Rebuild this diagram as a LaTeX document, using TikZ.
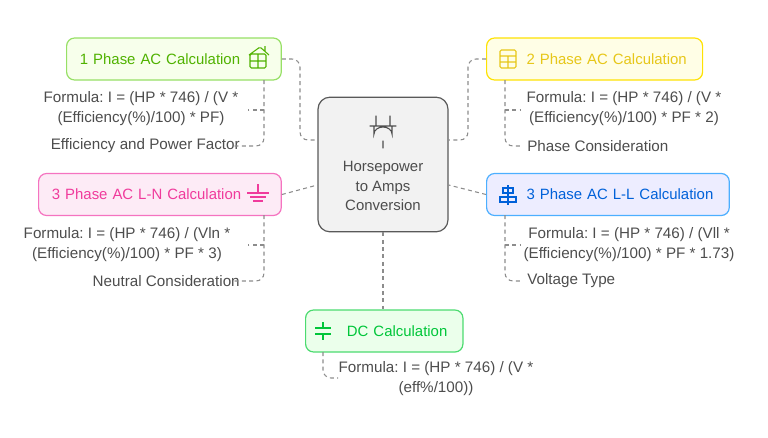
\documentclass[tikz,border=0pt]{standalone}
\usepackage{fontspec}
\setmainfont{Liberation Sans}
\frenchspacing
\usetikzlibrary{positioning}
\definecolor{lineGray}{HTML}{8C8C8C}
\definecolor{noteGray}{HTML}{4D4D4D}
\tikzset{
  box/.style={draw,rounded corners=6pt,line width=0.9pt,minimum height=31.5pt,font=\fontsize{11.2}{12}\selectfont,inner xsep=8pt,anchor=west},
  note/.style={text=noteGray,font=\fontsize{11.4}{15}\selectfont,inner sep=0pt},
  link/.style={draw=lineGray,dashed,line width=0.8pt,dash pattern=on 3pt off 2.5pt,rounded corners=6pt},
  icon/.style={line width=0.8pt}
}
\begin{document}
\begin{tikzpicture}[x=0.75pt,y=-0.75pt]
            \useasboundingbox (0,0) rectangle (768,437);

            \node[box,draw=black!65,fill=black!5,minimum width=97.5pt,minimum height=101pt,rounded corners=9pt,anchor=center] (C) at (383,164.5) {};
            \node[text=noteGray,align=center,font=\fontsize{11.2}{14.5}\selectfont] (Ct) at (383,186) {Horsepower\\to Amps\\Conversion};
            \node[box,draw=green!60!yellow!80!black!60,fill=green!40!yellow!8,text=green!55!yellow!70!black,text width=145pt] (P1) at (66,59) {\hspace*{2pt}1 Phase AC Calculation};
            \node[box,draw=yellow!85!orange,fill=yellow!10,text=yellow!75!orange!90!black,text width=146pt] (P2) at (486,59) {\hspace*{22pt}2 Phase AC Calculation};
            \node[box,draw=magenta!55,fill=magenta!8,text=magenta!70!pink,text width=166pt] (LN) at (38,194.5) {\hspace*{2pt}3 Phase AC L-N Calculation};
            \node[box,draw=blue!45!cyan!70,fill=blue!7,text=blue!55!cyan!85!black,text width=166pt] (LL) at (486,194.5) {\hspace*{22pt}3 Phase AC L-L Calculation};
            \node[box,draw=green!60!teal!70,fill=green!8,text=green!55!teal,text width=102pt] (DC) at (305,331) {\hspace*{23pt}DC Calculation};

            % notes
            \node[note,align=center] (F1) at (141,109) {Formula: I = (HP * 746) / (V *\\(Efficiency(\%)/100) * PF)};
            \node[note,anchor=east] (N1) at (240,146) {Efficiency and Power Factor};
            \node[note,align=center] (F2) at (624,109) {Formula: I = (HP * 746) / (V *\\(Efficiency(\%)/100) * PF * 2)};
            \node[note,anchor=west] (N2) at (527,146) {Phase Consideration};
            \node[note,align=center] (F3) at (127,245) {Formula: I = (HP * 746) / (Vln *\\(Efficiency(\%)/100) * PF * 3)};
            \node[note,anchor=east] (N3) at (240,281) {Neutral Consideration};
            \node[note,align=center] (F4) at (629,245) {Formula: I = (HP * 746) / (Vll *\\(Efficiency(\%)/100) * PF * 1.73)};
            \node[note,anchor=west] (N4) at (527,281) {Voltage Type};
            \node[note,align=center] (F5) at (436,379) {Formula: I = (HP * 746) / (V *\\(eff\%/100))};

            % connectors
            \path[link] (P1.east) -- (300,59) -- (300,140) -- (C.west|-0,140);
            \path[link] (P2.west) -- (468,59) -- (468,140) -- (C.east|-0,140);
            \path[link] (LN.east) -- (C.west|-0,185);
            \path[link] (LL.west) -- (C.east|-0,185);
            \path[link] (C.south) -- (C.south|-DC.north);
            \path[link] (264,80) -- (264,146) -- ([xshift=-4pt]N1.east);
            \path[link] (264,110) -- (248,110);
            \path[link] (505,80) -- (505,146) -- ([xshift=-4pt]N2.west);
            \path[link] (505,110) -- (520,110);
            \path[link] (264,215) -- (264,281) -- ([xshift=-4pt]N3.east);
            \path[link] (264,245) -- (248,245);
            \path[link] (505,215) -- (505,281) -- ([xshift=-4pt]N4.west);
            \path[link] (505,245) -- (520,245);
            \path[link] (323,352) -- (323,378) -- (338,378);

            % icons
            \draw[icon,noteGray,line cap=round] (376,116) -- (376,126) (390,116) -- (390,126) (370,126) -- (396,126) (374,126) -- (374,134) arc (180:360:9 and 7) -- (392,126) (383,141) -- (383,148);
            \draw[icon,green!55!yellow!70!black,rounded corners=1pt] (250,54) rectangle (266,68) (250,61) -- (266,61) (258,54) -- (258,68) (249,55) -- (260,47) -- (269,55) (265,51) -- (265,46);
            \draw[icon,yellow!75!orange!90!black,rounded corners=1pt] (500,50) rectangle (516,68) (500,56) -- (516,56) (500,62) -- (516,62) (508,56) -- (508,68);
            \draw[icon,magenta!70!pink] (258,184) -- (258,193) (247,193) -- (269,193) (250,197) -- (266,197) (253,201) -- (263,201);
            \draw[icon,blue!55!cyan!85!black] (508,185) -- (508,205) (503,188) rectangle (513,193) (500,197) rectangle (516,202);
            \draw[icon,green!55!teal] (323,322) -- (323,328) (323,334) -- (323,340) (315,328) -- (331,328) (315,334) -- (331,334);
        \end{tikzpicture}
\end{document}
